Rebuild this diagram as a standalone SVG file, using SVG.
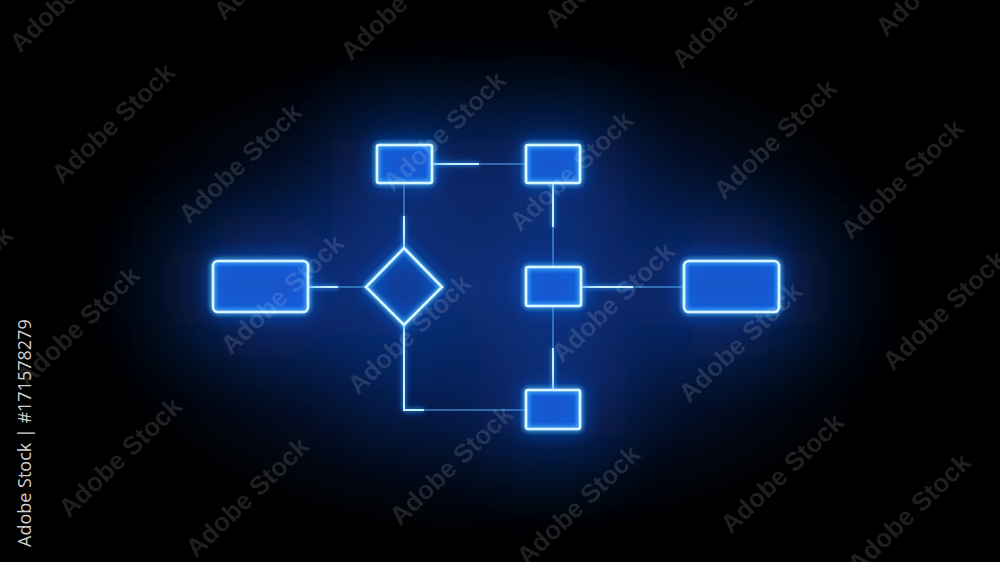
<svg xmlns="http://www.w3.org/2000/svg" width="1000" height="562" viewBox="0 0 1000 562">
<style>
.box{fill:none;stroke:#d4f6ff;stroke-width:2.6}
.fillb{fill:#1856cc;stroke:none}
.filld{fill:#0f3c98;stroke:none}
.cb{fill:none;stroke:#c4efff;stroke-width:2;stroke-linecap:butt}
.ct{fill:none;stroke:#5cb4ff;stroke-width:1}
.wm{font-family:"Liberation Sans",Arial,sans-serif;font-weight:bold;font-size:26px;fill:#ffffff;fill-opacity:0.13;text-anchor:middle}
.tag{font-family:"Open Sans","Liberation Sans",sans-serif;font-size:18px;fill:#cfcfcf}
</style>
<defs>
<radialGradient id="bg" cx="497" cy="287" r="420" gradientUnits="userSpaceOnUse" gradientTransform="translate(497 287) scale(1 0.6) translate(-497 -287)">
<stop offset="0" stop-color="#0a2664"/>
<stop offset="0.45" stop-color="#061a48"/>
<stop offset="0.8" stop-color="#020814"/>
<stop offset="1" stop-color="#000000"/>
</radialGradient>
<filter id="haze" x="-80%" y="-80%" width="260%" height="260%">
<feGaussianBlur stdDeviation="45"/>
</filter>
<filter id="neon" x="-60%" y="-60%" width="220%" height="220%">
<feGaussianBlur in="SourceAlpha" stdDeviation="2.5" result="a1"/>
<feFlood flood-color="#45b8ff" result="c1"/>
<feComposite in="c1" in2="a1" operator="in" result="g1"/>
<feGaussianBlur in="SourceAlpha" stdDeviation="9" result="a2"/>
<feFlood flood-color="#1a78ff" result="c2"/>
<feComposite in="c2" in2="a2" operator="in" result="g2"/>
<feMerge><feMergeNode in="g2"/><feMergeNode in="g2"/><feMergeNode in="g1"/><feMergeNode in="g1"/><feMergeNode in="SourceGraphic"/></feMerge>
</filter>
<filter id="neonl" x="-60%" y="-60%" width="220%" height="220%">
<feGaussianBlur in="SourceAlpha" stdDeviation="2" result="a1"/>
<feFlood flood-color="#3aa8ff" result="c1"/>
<feComposite in="c1" in2="a1" operator="in" result="g1"/>
<feGaussianBlur in="SourceAlpha" stdDeviation="5" result="a2"/>
<feFlood flood-color="#1a6cff" flood-opacity="0.8" result="c2"/>
<feComposite in="c2" in2="a2" operator="in" result="g2"/>
<feMerge><feMergeNode in="g2"/><feMergeNode in="g1"/><feMergeNode in="SourceGraphic"/></feMerge>
</filter>
</defs>
<rect width="1000" height="562" fill="#000"/>
<rect width="1000" height="562" fill="url(#bg)"/>
<g id="haze" filter="url(#haze)" fill="#1250c8" opacity="0.7">
<rect x="193" y="246" width="135" height="81" rx="10"/>
<polygon points="404,232 458,287 404,341 350,287"/>
<rect x="362" y="130" width="85" height="68"/>
<rect x="511" y="130" width="84" height="68"/>
<rect x="511" y="252" width="85" height="69"/>
<rect x="511" y="375" width="84" height="69"/>
<rect x="664" y="246" width="135" height="81" rx="10"/>
<rect x="392" y="190" width="24" height="225"/>
<rect x="542" y="190" width="22" height="200"/>
</g>
<g id="connectors">
<path class="ct" d="M338,287 H366 M479,164 H526 M404,183 V216 M424,410 H526 M553,227 V267 M553,306 V348 M633,287 H684"/>
<g filter="url(#neonl)">
<path class="cb" d="M308,287 H338 M432,164 H479 M404,216 V248 M404,325 V410 H424 M553,183 V227 M553,348 V390 M581,287 H633"/>
</g>
</g>
<g id="start">
<rect class="fillb" x="213" y="261" width="95" height="51" rx="5"/>
<rect class="box" x="213" y="261" width="95" height="51" rx="5" filter="url(#neon)"/>
</g>
<g id="decision">
<polygon class="filld" points="404,248 442,287 404,325 366,287"/>
<polygon class="box" points="404,248 442,287 404,325 366,287" filter="url(#neon)"/>
</g>
<g id="step-top-left">
<rect class="fillb" x="377" y="145" width="55" height="38" rx="2"/>
<rect class="box" x="377" y="145" width="55" height="38" rx="2" filter="url(#neon)"/>
</g>
<g id="step-top-right">
<rect class="fillb" x="526" y="145" width="54" height="38" rx="2"/>
<rect class="box" x="526" y="145" width="54" height="38" rx="2" filter="url(#neon)"/>
</g>
<g id="step-middle">
<rect class="fillb" x="526" y="267" width="55" height="39" rx="2"/>
<rect class="box" x="526" y="267" width="55" height="39" rx="2" filter="url(#neon)"/>
</g>
<g id="step-bottom">
<rect class="fillb" x="526" y="390" width="54" height="39" rx="2"/>
<rect class="box" x="526" y="390" width="54" height="39" rx="2" filter="url(#neon)"/>
</g>
<g id="end">
<rect class="fillb" x="684" y="261" width="95" height="51" rx="5"/>
<rect class="box" x="684" y="261" width="95" height="51" rx="5" filter="url(#neon)"/>
</g>
<g id="watermark">
<text class="wm" x="120" y="466" transform="rotate(-44 120 457)">Adobe Stock</text>
<text class="wm" x="247" y="506" transform="rotate(-44 247 497)">Adobe Stock</text>
<text class="wm" x="451" y="474" transform="rotate(-44 451 465)">Adobe Stock</text>
<text class="wm" x="578" y="514" transform="rotate(-44 578 505)">Adobe Stock</text>
<text class="wm" x="782" y="482" transform="rotate(-44 782 473)">Adobe Stock</text>
<text class="wm" x="909" y="522" transform="rotate(-44 909 513)">Adobe Stock</text>
<text class="wm" x="-49" y="295" transform="rotate(-44 -49 286)">Adobe Stock</text>
<text class="wm" x="78" y="335" transform="rotate(-44 78 326)">Adobe Stock</text>
<text class="wm" x="282" y="303" transform="rotate(-44 282 294)">Adobe Stock</text>
<text class="wm" x="409" y="343" transform="rotate(-44 409 334)">Adobe Stock</text>
<text class="wm" x="613" y="311" transform="rotate(-44 613 302)">Adobe Stock</text>
<text class="wm" x="740" y="351" transform="rotate(-44 740 342)">Adobe Stock</text>
<text class="wm" x="944" y="319" transform="rotate(-44 944 310)">Adobe Stock</text>
<text class="wm" x="113" y="132" transform="rotate(-44 113 123)">Adobe Stock</text>
<text class="wm" x="240" y="172" transform="rotate(-44 240 163)">Adobe Stock</text>
<text class="wm" x="444" y="140" transform="rotate(-44 444 131)">Adobe Stock</text>
<text class="wm" x="571" y="180" transform="rotate(-44 571 171)">Adobe Stock</text>
<text class="wm" x="775" y="148" transform="rotate(-44 775 139)">Adobe Stock</text>
<text class="wm" x="902" y="188" transform="rotate(-44 902 179)">Adobe Stock</text>
<text class="wm" x="71" y="1" transform="rotate(-44 71 -8)">Adobe Stock</text>
<text class="wm" x="275" y="-31" transform="rotate(-44 275 -40)">Adobe Stock</text>
<text class="wm" x="402" y="9" transform="rotate(-44 402 0)">Adobe Stock</text>
<text class="wm" x="606" y="-23" transform="rotate(-44 606 -32)">Adobe Stock</text>
<text class="wm" x="733" y="17" transform="rotate(-44 733 8)">Adobe Stock</text>
<text class="wm" x="937" y="-15" transform="rotate(-44 937 -24)">Adobe Stock</text>
<text class="tag" transform="translate(31 547) rotate(-90)">Adobe Stock | #171578279</text>
</g>
</svg>
